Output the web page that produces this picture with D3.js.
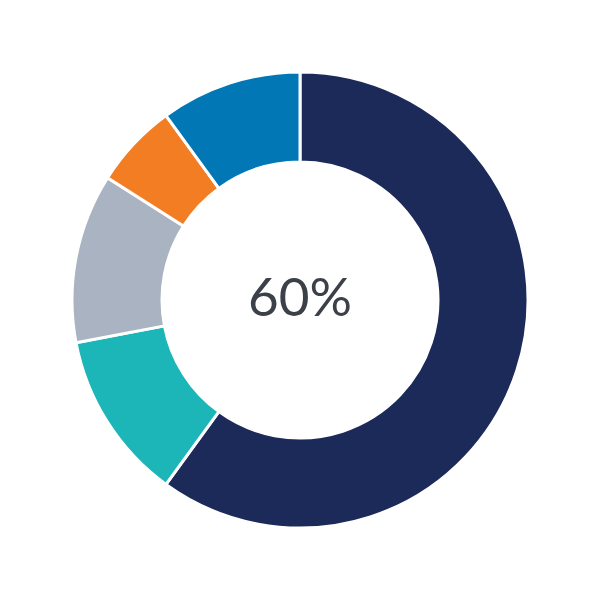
<!DOCTYPE html>
<html>
<head>
<meta charset="utf-8">
<script src="https://cdn.jsdelivr.net/npm/d3@7"></script>
<style>
  html, body { margin: 0; padding: 0; background: #fff; }
</style>
</head>
<body>
<svg id="chart" width="600" height="600"></svg>
<script>
// slice data, clockwise from 12 o'clock
const categories = ['A', 'B', 'C', 'D', 'E'];
const values = [60, 12, 12, 6, 10];
const colors = ['#1c2a5a', '#1cb6b8', '#a9b3c1', '#f27d22', '#0277b5'];
const centerLabel = '60%';

const width = 600, height = 600;
const cx = 300, cy = 300;
const outerR = 228, innerR = 138;

let svg = d3.select('#chart');
let g = svg.append('g').attr('transform', `translate(${cx},${cy})`);

let color = d3.scaleOrdinal().domain(categories).range(colors);

let pie = d3.pie().sort(null).value(d => d.value);
let arc = d3.arc().innerRadius(innerR).outerRadius(outerR);

let data = categories.map((c, i) => ({ name: c, value: values[i] }));

// drawing slices
g.selectAll('path.slice')
  .data(pie(data))
  .join('path')
  .attr('class', 'slice')
  .attr('d', arc)
  .attr('fill', d => color(d.data.name))
  .attr('stroke', '#fff')
  .attr('stroke-width', 3);

// center label
g.append('text')
  .attr('text-anchor', 'middle')
  .attr('y', 16)
  .attr('font-family', 'Lato, sans-serif')
  .attr('font-size', 53)
  .attr('fill', '#3b4049')
  .text(centerLabel);
</script>
</body>
</html>
